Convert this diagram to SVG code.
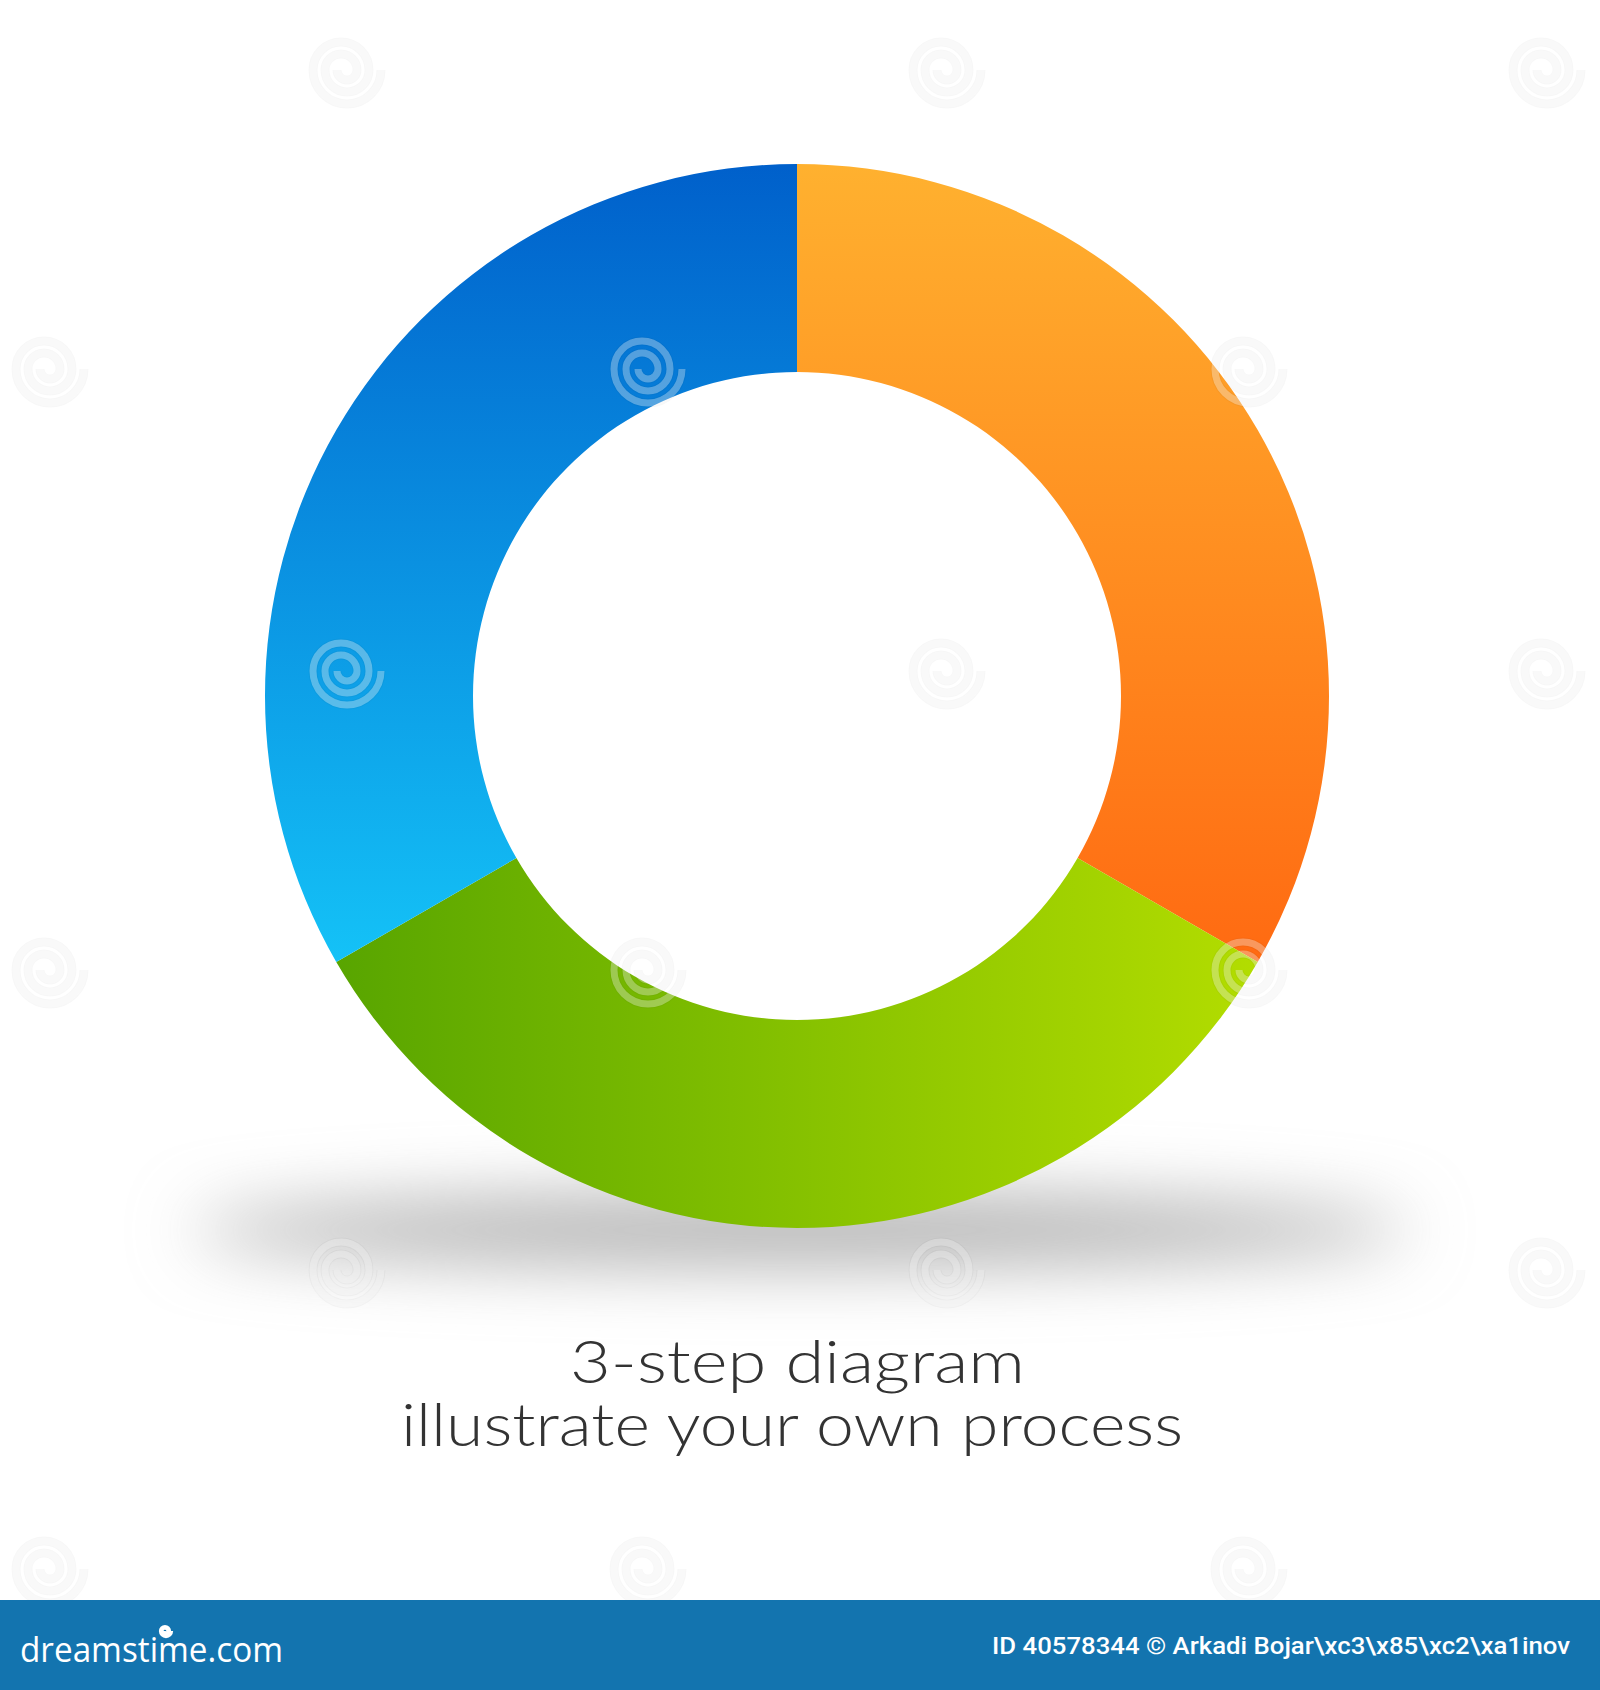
<svg xmlns="http://www.w3.org/2000/svg" width="1600" height="1690" viewBox="0 0 1600 1690">
<style>
.title{font-family:Lato,"Liberation Sans",sans-serif;font-weight:300;font-size:60px;fill:#333333}
.credit{font-family:Roboto,"Liberation Sans",sans-serif;font-weight:500;font-size:24px;fill:#ffffff}
.brand{font-family:"Open Sans",Lato,sans-serif;font-size:34px;fill:#ffffff}
.wm-g{fill:none;stroke:#000;stroke-opacity:0.03;stroke-width:9}
.wm-w{fill:none;stroke:#fff;stroke-opacity:0.32;stroke-width:7}
</style>
<defs>
<linearGradient id="gBlue" gradientUnits="userSpaceOnUse" x1="0" y1="164" x2="0" y2="962">
<stop offset="0" stop-color="#0060CB"/>
<stop offset="1" stop-color="#14C2F7"/>
</linearGradient>
<linearGradient id="gOrange" gradientUnits="userSpaceOnUse" x1="0" y1="164" x2="0" y2="962">
<stop offset="0" stop-color="#FFB12F"/>
<stop offset="1" stop-color="#FF6A12"/>
</linearGradient>
<linearGradient id="gGreen" gradientUnits="userSpaceOnUse" x1="336" y1="0" x2="1258" y2="0">
<stop offset="0" stop-color="#58A500"/>
<stop offset="1" stop-color="#B3DD00"/>
</linearGradient>
<filter id="blur" filterUnits="userSpaceOnUse" x="0" y="1000" width="1600" height="460">
<feGaussianBlur stdDeviation="34"/>
</filter>
<path id="spiral" d="M 34 0 A 34 34 0 0 1 -34 0 A 28 28 0 0 1 22 0 A 22 22 0 0 1 -22 0 A 16 16 0 0 1 10 0 A 10 10 0 0 1 -10 0"/>
</defs>
<rect x="0" y="0" width="1600" height="1690" fill="#ffffff"/>
<g id="shadow">
<ellipse cx="800" cy="1230" rx="610" ry="34" fill="#aeaeae" filter="url(#blur)"/>
</g>
<g id="ring">
<g id="step-orange"><path d="M 797 164 A 532 532 0 0 1 1257.73 962 L 1077.59 858 A 324 324 0 0 0 797 372 Z" fill="url(#gOrange)"/></g>
<g id="step-green"><path d="M 1257.73 962 A 532 532 0 0 1 336.27 962 L 516.41 858 A 324 324 0 0 0 1077.59 858 Z" fill="url(#gGreen)"/></g>
<g id="step-blue"><path d="M 336.27 962 A 532 532 0 0 1 797 164 L 797 372 A 324 324 0 0 0 516.41 858 Z" fill="url(#gBlue)"/></g>
</g>
<g id="connectors"></g>
<g id="watermarks">
<g transform="translate(347,70)"><use href="#spiral" class="wm-g"/><use href="#spiral" class="wm-w"/></g>
<g transform="translate(947,70)"><use href="#spiral" class="wm-g"/><use href="#spiral" class="wm-w"/></g>
<g transform="translate(1547,70)"><use href="#spiral" class="wm-g"/><use href="#spiral" class="wm-w"/></g>
<g transform="translate(50,369)"><use href="#spiral" class="wm-g"/><use href="#spiral" class="wm-w"/></g>
<g transform="translate(648,369)"><use href="#spiral" class="wm-g"/><use href="#spiral" class="wm-w"/></g>
<g transform="translate(1249,369)"><use href="#spiral" class="wm-g"/><use href="#spiral" class="wm-w"/></g>
<g transform="translate(347,671)"><use href="#spiral" class="wm-g"/><use href="#spiral" class="wm-w"/></g>
<g transform="translate(947,671)"><use href="#spiral" class="wm-g"/><use href="#spiral" class="wm-w"/></g>
<g transform="translate(1547,671)"><use href="#spiral" class="wm-g"/><use href="#spiral" class="wm-w"/></g>
<g transform="translate(50,970)"><use href="#spiral" class="wm-g"/><use href="#spiral" class="wm-w"/></g>
<g transform="translate(648,970)"><use href="#spiral" class="wm-g"/><use href="#spiral" class="wm-w"/></g>
<g transform="translate(1249,970)"><use href="#spiral" class="wm-g"/><use href="#spiral" class="wm-w"/></g>
<g transform="translate(347,1270)"><use href="#spiral" class="wm-g"/><use href="#spiral" class="wm-w"/></g>
<g transform="translate(947,1270)"><use href="#spiral" class="wm-g"/><use href="#spiral" class="wm-w"/></g>
<g transform="translate(1547,1270)"><use href="#spiral" class="wm-g"/><use href="#spiral" class="wm-w"/></g>
<g transform="translate(50,1569)"><use href="#spiral" class="wm-g"/><use href="#spiral" class="wm-w"/></g>
<g transform="translate(648,1569)"><use href="#spiral" class="wm-g"/><use href="#spiral" class="wm-w"/></g>
<g transform="translate(1249,1569)"><use href="#spiral" class="wm-g"/><use href="#spiral" class="wm-w"/></g>
</g>
<g id="caption">
<text class="title" x="570" y="1383" textLength="455" lengthAdjust="spacingAndGlyphs">3-step diagram</text>
<text class="title" x="401" y="1446" textLength="782" lengthAdjust="spacingAndGlyphs">illustrate your own process</text>
</g>
<g id="footer">
<rect x="0" y="1600" width="1600" height="90" fill="#1374AF"/>
<text class="brand" x="20" y="1662" textLength="263" lengthAdjust="spacingAndGlyphs">dreamstime.com</text>
<g transform="translate(166,1631) scale(0.17)"><use href="#spiral" fill="none" stroke="#fff" stroke-width="16"/></g>
<text class="credit" x="992" y="1654" textLength="578" lengthAdjust="spacingAndGlyphs">ID 40578344 © Arkadi Bojar\xc3\x85\xc2\xa1inov</text>
</g>
</svg>
